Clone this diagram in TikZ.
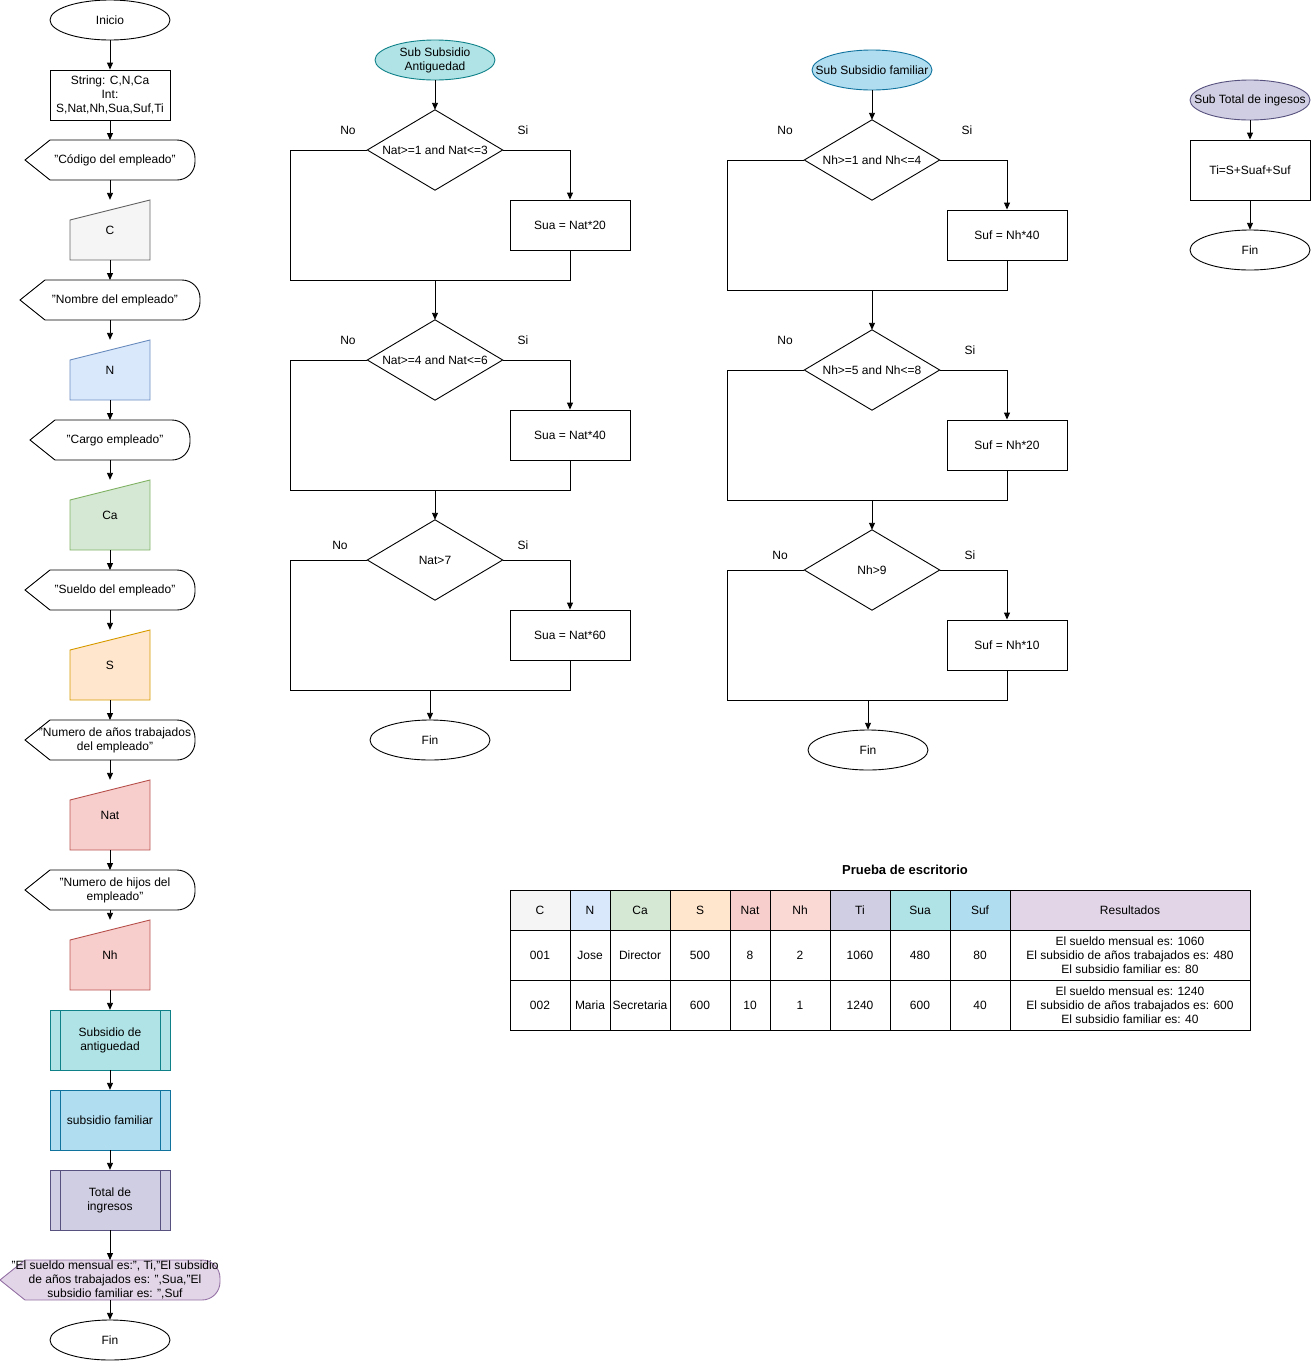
\documentclass[tikz,border=0pt]{standalone}
\usepackage{fontspec}
\setmainfont{Liberation Sans}
\usetikzlibrary{arrows.meta,calc}
\definecolor{cGf}{HTML}{F5F5F5}\definecolor{cGs}{HTML}{666666}
\definecolor{cBf}{HTML}{DAE8FC}\definecolor{cBs}{HTML}{6C8EBF}
\definecolor{cVf}{HTML}{D5E8D4}\definecolor{cVs}{HTML}{82B366}
\definecolor{cOf}{HTML}{FFE6CC}\definecolor{cOs}{HTML}{D79B00}
\definecolor{cRf}{HTML}{F8CECC}\definecolor{cRs}{HTML}{B85450}
\definecolor{cTf}{HTML}{B0E3E6}\definecolor{cTs}{HTML}{0E8088}
\definecolor{cLf}{HTML}{B1DDF0}\definecolor{cLs}{HTML}{10739E}
\definecolor{cPf}{HTML}{D0CEE2}\definecolor{cPs}{HTML}{56517E}
\definecolor{cMf}{HTML}{E1D5E7}\definecolor{cMs}{HTML}{9673A6}
\definecolor{cNh}{HTML}{FAD9D5}
\tikzset{
  txt/.style={inner sep=0pt,align=center,font=\fontsize{12}{14}\selectfont},
  arr/.style={-{Triangle[length=7pt,width=6pt]},line width=0.9pt},
  ln/.style={line width=0.9pt},
  shp/.style={line width=0.9pt},
  lab/.style={font=\fontsize{12}{14}\selectfont},
}
\newcommand\minp[8]{\draw[shp,#7] (#2,#6) -- (#4,#3) -- (#4,#5) -- (#2,#5) -- cycle;
  \node[txt,minimum width={#4-#2},minimum height={#5-#3}] (#1) at ({(#2+#4)/2},{(#3+#5)/2}) {#8};}
\newcommand\disp[7]{\draw[shp,#6] (#2,{(#3+#5)/2}) -- ({#2+25},#3) [rounded corners=18pt] -- (#4,#3) -- (#4,#5) [sharp corners] -- ({#2+25},#5) -- cycle;
  \node[txt,minimum width={#4-#2},minimum height={#5-#3}] (#1) at ({(#2+#4)/2+5},{(#3+#5)/2}) {#7};}
\newcommand\proc[7]{\draw[shp,#6] (#2,#3) rectangle (#4,#5); \draw[shp,#6] ({#2+10},#3) -- ({#2+10},#5) ({#4-10},#3) -- ({#4-10},#5);
  \node[txt,minimum width={#4-#2},minimum height={#5-#3}] (#1) at ({(#2+#4)/2},{(#3+#5)/2}) {#7};}
\newcommand\ellp[4]{\draw[shp,#3] (#2) ellipse (60 and 20); \node[txt,minimum width=120,minimum height=40] (#1) at (#2) {#4};}
\newcommand\dia[3]{\node[txt,minimum width=135,minimum height=80] (#1) at (#2) {#3};
  \draw[shp] (#1.north) -- (#1.east) -- (#1.south) -- (#1.west) -- cycle;}
\newcommand\bx[3]{\node[txt,draw,shp,minimum width=120,minimum height=50] (#1) at (#2) {#3};}
\begin{document}
\begin{tikzpicture}[x=1pt,y=-1pt]
\useasboundingbox (0,0) rectangle (1311,1361);
% left column
\ellp{ini}{110,20}{fill=white}{Inicio}
\node[txt,draw,shp,minimum width=120,minimum height=50] (dec) at (110,95) {String: C,N,Ca\\Int:\\S,Nat,Nh,Sua,Suf,Ti};
\disp{d1}{25}{140}{195}{180}{fill=white}{"Código del empleado"}
\minp{C}{70}{200}{150}{260}{220}{fill=cGf,draw=cGs}{C}
\disp{d2}{20}{280}{200}{320}{fill=white}{"Nombre del empleado"}
\minp{N}{70}{340}{150}{400}{360}{fill=cBf,draw=cBs}{N}
\disp{d3}{30}{420}{190}{460}{fill=white}{"Cargo empleado"}
\minp{Ca}{70}{480}{150}{550}{500}{fill=cVf,draw=cVs}{Ca}
\disp{d4}{25}{570}{195}{610}{fill=white}{"Sueldo del empleado"}
\minp{S}{70}{630}{150}{700}{650}{fill=cOf,draw=cOs}{S}
\disp{d5}{25}{720}{195}{760}{fill=white}{"Numero de años trabajados\\del empleado"}
\minp{Nat}{70}{780}{150}{850}{800}{fill=cRf,draw=cRs}{Nat}
\disp{d6}{25}{870}{195}{910}{fill=white}{"Numero de hijos del\\empleado"}
\minp{Nh}{70}{920}{150}{990}{940}{fill=cRf,draw=cRs}{Nh}
\proc{p1}{50}{1010}{170}{1070}{fill=cTf,draw=cTs}{Subsidio de\\antiguedad}
\proc{p2}{50}{1090}{170}{1150}{fill=cLf,draw=cLs}{subsidio familiar}
\proc{p3}{50}{1170}{170}{1230}{fill=cPf,draw=cPs}{Total de\\ingresos}
\disp{d7}{0}{1260}{220}{1300}{fill=cMf,draw=cMs}{"El sueldo mensual es:", Ti,"El subsidio\\de años trabajados es: ",Sua,"El\\subsidio familiar es: ",Suf}
\ellp{fin1}{110,1340}{fill=white}{Fin}
\draw[arr] (ini.south) -- (dec.north);
\draw[arr] (dec.south) -- (110,140);
\draw[arr] (110,180) -- (C.north);
\draw[arr] (C.south) -- (110,280);
\draw[arr] (110,320) -- (N.north);
\draw[arr] (N.south) -- (110,420);
\draw[arr] (110,460) -- (Ca.north);
\draw[arr] (Ca.south) -- (110,570);
\draw[arr] (110,610) -- (S.north);
\draw[arr] (S.south) -- (110,720);
\draw[arr] (110,760) -- (Nat.north);
\draw[arr] (Nat.south) -- (110,870);
\draw[arr] (110,910) -- (Nh.north);
\draw[arr] (Nh.south) -- (p1.north);
\draw[arr] (p1.south) -- (p2.north);
\draw[arr] (p2.south) -- (p3.north);
\draw[arr] (p3.south) -- (110,1260);
\draw[arr] (110,1300) -- (fin1.north);
% middle flow
\ellp{sa}{435,60}{fill=cTf,draw=cTs}{Sub Subsidio\\Antiguedad}
\dia{a1}{435,150}{Nat>=1 and Nat<=3}
\bx{b1}{570,225}{Sua = Nat*20}
\dia{a2}{435,360}{Nat>=4 and Nat<=6}
\bx{b2}{570,435}{Sua = Nat*40}
\dia{a3}{435,560}{Nat>7}
\bx{b3}{570,635}{Sua = Nat*60}
\ellp{fin2}{430,740}{fill=white}{Fin}
\draw[arr] (sa.south) -- (a1.north);
\draw[arr] (a1.east) -| (b1.north);
\draw[ln] (a1.west) -| (290,280) -- (570,280) -- (b1.south);
\draw[arr] (435,280) -- (a2.north);
\draw[arr] (a2.east) -| (b2.north);
\draw[ln] (a2.west) -| (290,490) -- (570,490) -- (b2.south);
\draw[arr] (435,490) -- (a3.north);
\draw[arr] (a3.east) -| (b3.north);
\draw[ln] (a3.west) -| (290,690) -- (570,690) -- (b3.south);
\draw[arr] (430,690) -- (fin2.north);
\node[lab] at (348,130) {No}; \node[lab] at (523,130) {Si};
\node[lab] at (348,340) {No}; \node[lab] at (523,340) {Si};
\node[lab] at (340,545) {No}; \node[lab] at (523,545) {Si};
% right flow
\ellp{sf}{872,70}{fill=cLf,draw=cLs}{Sub Subsidio familiar}
\dia{f1}{872,160}{Nh>=1 and Nh<=4}
\bx{g1}{1007,235}{Suf = Nh*40}
\dia{f2}{872,370}{Nh>=5 and Nh<=8}
\bx{g2}{1007,445}{Suf = Nh*20}
\dia{f3}{872,570}{Nh>9}
\bx{g3}{1007,645}{Suf = Nh*10}
\ellp{fin3}{868,750}{fill=white}{Fin}
\draw[arr] (sf.south) -- (f1.north);
\draw[arr] (f1.east) -| (g1.north);
\draw[ln] (f1.west) -| (727,290) -- (1007,290) -- (g1.south);
\draw[arr] (872,290) -- (f2.north);
\draw[arr] (f2.east) -| (g2.north);
\draw[ln] (f2.west) -| (727,500) -- (1007,500) -- (g2.south);
\draw[arr] (872,500) -- (f3.north);
\draw[arr] (f3.east) -| (g3.north);
\draw[ln] (f3.west) -| (727,700) -- (1007,700) -- (g3.south);
\draw[arr] (868,700) -- (fin3.north);
\node[lab] at (785,130) {No}; \node[lab] at (967,130) {Si};
\node[lab] at (785,340) {No}; \node[lab] at (970,350) {Si};
\node[lab] at (780,555) {No}; \node[lab] at (970,555) {Si};
% far right
\ellp{st}{1250,100}{fill=cPf,draw=cPs}{Sub Total de ingesos}
\node[txt,draw,shp,minimum width=120,minimum height=60] (ti) at (1250,170) {Ti=S+Suaf+Suf};
\ellp{fin4}{1250,250}{fill=white}{Fin}
\draw[arr] (st.south) -- (ti.north);
\draw[arr] (ti.south) -- (fin4.north);
% table
\node[txt,font=\fontsize{13}{15}\selectfont\bfseries] (tt) at (905,870) {Prueba de escritorio};
\foreach \xa/\xb/\c/\t in {510/570/cGf/C,570/610/cBf/N,610/670/cVf/Ca,670/730/cOf/S,730/770/cRf/Nat,770/830/cNh/Nh,830/890/cPf/Ti,890/950/cTf/Sua,950/1010/cLf/Suf,1010/1250/cMf/Resultados}{
  \fill[\c] (\xa,890) rectangle (\xb,930);
  \node[txt] at ({(\xa+\xb)/2},910) {\t};}
\foreach \xa/\xb/\t/\u in {510/570/001/002,570/610/Jose/Maria,610/670/Director/Secretaria,670/730/500/600,730/770/8/10,770/830/2/1,830/890/1060/1240,890/950/480/600,950/1010/80/40}{
  \node[txt] at ({(\xa+\xb)/2},955) {\t};
  \node[txt] at ({(\xa+\xb)/2},1005) {\u};}
\node[txt] at (1130,955) {El sueldo mensual es: 1060\\El subsidio de años trabajados es: 480\\El subsidio familiar es: 80};
\node[txt] at (1130,1005) {El sueldo mensual es: 1240\\El subsidio de años trabajados es: 600\\El subsidio familiar es: 40};
\draw[ln] (510,890) rectangle (1250,1030);
\draw[ln] (510,930) -- (1250,930) (510,980) -- (1250,980);
\foreach \x in {570,610,670,730,770,830,890,950,1010}{\draw[ln] (\x,890) -- (\x,1030);}
\end{tikzpicture}
\end{document}
